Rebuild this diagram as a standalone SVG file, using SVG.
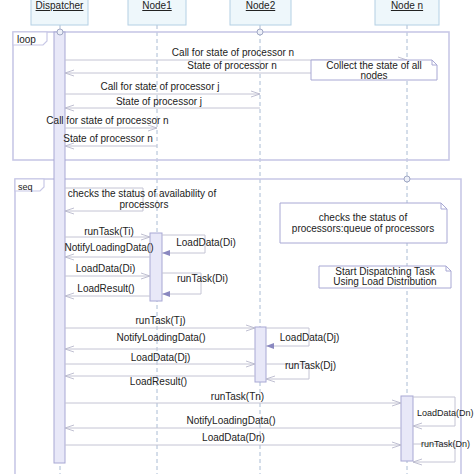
<svg xmlns="http://www.w3.org/2000/svg" width="474" height="474" viewBox="0 0 474 474">
<defs>
<marker id="open" markerWidth="10" markerHeight="8" refX="9" refY="4" orient="auto" markerUnits="userSpaceOnUse">
<path d="M0,1 L9,4 L0,7" fill="none" stroke="#b8b8cc" stroke-width="0.9"/>
</marker>
<marker id="fill" markerWidth="9" markerHeight="8" refX="8" refY="4" orient="auto" markerUnits="userSpaceOnUse">
<path d="M0,1 L8,4 L0,7 Z" fill="#8a88c0" stroke="none"/>
</marker>
<style>
text{font-family:"Liberation Sans",Arial,sans-serif;font-size:10px;fill:#222}
.hdr{fill:#eef7fb;stroke:#b4d0e4;stroke-width:1}
.life{stroke:#aabcd4;stroke-width:1;stroke-dasharray:4,3;fill:none}
.frame{fill:none;stroke:#c8c8e6;stroke-width:1.6}
.tab{fill:#fff;stroke:#c8c8e6;stroke-width:1.2}
.act{fill:#e8e8f8;stroke:#a8a8d4;stroke-width:1}
.msg{stroke:#c4c4d4;stroke-width:1;fill:none;marker-end:url(#open)}
.self{stroke:#c4c4d4;stroke-width:1;fill:none}
.note{fill:#fff;stroke:#a8a8d4;stroke-width:1}
.circ{fill:#eceff8;stroke:#a0a8c4;stroke-width:1}
.m{text-anchor:middle}
</style>
</defs>

<g id="lifelines">
<line class="life" x1="60" y1="25" x2="60" y2="474"/>
<line class="life" x1="157" y1="25" x2="157" y2="474"/>
<line class="life" x1="260" y1="25" x2="260" y2="474"/>
<line class="life" x1="407" y1="25" x2="407" y2="474"/>
</g>

<g id="Dispatcher">
<rect class="hdr" x="31" y="-5" width="57" height="30"/>
<text class="m" x="59.5" y="9" text-decoration="underline">Dispatcher</text>
</g>
<g id="Node1">
<rect class="hdr" x="128" y="-5" width="58" height="30"/>
<text class="m" x="157" y="9" text-decoration="underline">Node1</text>
</g>
<g id="Node2">
<rect class="hdr" x="230" y="-5" width="61" height="30"/>
<text class="m" x="260.5" y="9" text-decoration="underline">Node2</text>
</g>
<g id="NodeN">
<rect class="hdr" x="375" y="-5" width="64" height="30"/>
<text class="m" x="407" y="9" text-decoration="underline">Node n</text>
</g>

<g id="loop-frame">
<rect class="frame" x="13" y="32" width="436" height="128"/>
<path class="tab" d="M13,32 H47 V41 L43,45 H13 Z"/>
<text x="17" y="43">loop</text>
</g>

<g id="seq-frame">
<path class="frame" d="M15,480 V179 H461 V480"/>
<path class="tab" d="M15,179 H44 V187 L40,191 H15 Z"/>
<text x="18" y="190" style="font-size:9px">seq</text>
</g>

<g id="activations">
<rect class="act" x="54" y="32" width="11" height="431"/>
<rect class="act" x="150" y="233" width="12" height="68"/>
<rect class="act" x="255" y="327" width="11" height="55"/>
<rect class="act" x="401" y="396" width="12" height="65"/>
</g>

<g id="circles">
<circle class="circ" cx="60" cy="32" r="3"/>
<circle class="circ" cx="260" cy="32" r="3"/>
<circle class="circ" cx="407" cy="179" r="3"/>
</g>

<g id="connectors">
<line class="msg" x1="65" y1="60" x2="407" y2="60"/>
<line class="msg" x1="407" y1="73" x2="65" y2="73"/>
<line class="msg" x1="65" y1="94" x2="260" y2="94"/>
<line class="msg" x1="260" y1="108" x2="65" y2="108"/>
<line class="msg" x1="65" y1="128" x2="157" y2="128"/>
<line class="msg" x1="157" y1="146" x2="65" y2="146"/>

<path class="msg" d="M65,188 H143 V211 H65"/>

<line class="msg" x1="65" y1="237" x2="150" y2="237"/>
<line class="msg" x1="150" y1="257" x2="65" y2="257"/>
<line class="msg" x1="65" y1="276" x2="150" y2="276"/>
<line class="msg" x1="150" y1="296" x2="65" y2="296"/>
<path class="self" d="M162,235 H205 V253 H162" marker-end="url(#fill)"/>
<path class="self" d="M162,273 H201 V294 H162" marker-end="url(#fill)"/>

<line class="msg" x1="65" y1="328" x2="255" y2="328"/>
<line class="msg" x1="255" y1="349" x2="65" y2="349"/>
<line class="msg" x1="65" y1="364" x2="255" y2="364"/>
<line class="msg" x1="255" y1="376" x2="65" y2="376"/>
<path class="self" d="M266,328 H309 V346 H266" marker-end="url(#fill)"/>
<path class="msg" d="M266,364 H309 V379 H266"/>

<line class="msg" x1="65" y1="403" x2="401" y2="403"/>
<line class="msg" x1="401" y1="428" x2="65" y2="428"/>
<line class="msg" x1="65" y1="445" x2="401" y2="445"/>
<path class="msg" d="M413,397 H455 V426 H413"/>
<path class="msg" d="M413,444 H455 V462 H413"/>
</g>

<g id="labels">
<text class="m" x="233" y="55.5">Call for state of processor n</text>
<text class="m" x="232" y="68.5">State of processor n</text>
<text class="m" x="160" y="89.5">Call for state of processor j</text>
<text class="m" x="159" y="104.5">State of processor j</text>
<text class="m" x="107.5" y="123.5">Call for state of processor n</text>
<text class="m" x="108" y="141.5">State of processor n</text>

<text class="m" x="142" y="196.5">checks the status of availability of</text>
<text class="m" x="144" y="207.5">processors</text>

<text class="m" x="109" y="234.5">runTask(Ti)</text>
<text class="m" x="109" y="251">NotifyLoadingData()</text>
<text class="m" x="105.5" y="271.5">LoadData(Di)</text>
<text class="m" x="106" y="291.5">LoadResult()</text>
<text class="m" x="206" y="245.5">LoadData(Di)</text>
<text class="m" x="202.5" y="281.5">runTask(Di)</text>

<text class="m" x="160.5" y="323.5">runTask(Tj)</text>
<text class="m" x="161" y="340.5">NotifyLoadingData()</text>
<text class="m" x="160.5" y="360.5">LoadData(Dj)</text>
<text class="m" x="158.5" y="384.5">LoadResult()</text>
<text class="m" x="309.5" y="340.5">LoadData(Dj)</text>
<text class="m" x="310.5" y="368.5">runTask(Dj)</text>

<text class="m" x="237.5" y="399.5">runTask(Tn)</text>
<text class="m" x="231" y="423.5">NotifyLoadingData()</text>
<text class="m" x="233.5" y="440.5">LoadData(Dn)</text>
<text x="417" y="415.5" style="font-size:9px">LoadData(Dn)</text>
<text x="421" y="447" style="font-size:9px">runTask(Dn)</text>
</g>

<g id="note-collect">
<path class="note" d="M311,60 H432 L437,65 V80 H311 Z"/>
<path d="M432,60 V65 H437" fill="none" stroke="#a8a8d4"/>
<text class="m" x="374" y="68.5">Collect  the state of all</text>
<text class="m" x="374" y="78.5">nodes</text>
</g>

<g id="note-queue">
<path class="note" d="M280,203 H441 L447,209 V243 H280 Z"/>
<path d="M441,203 V209 H447" fill="none" stroke="#a8a8d4"/>
<text class="m" x="363" y="220.5">checks the status of</text>
<text class="m" x="363" y="231.5">processors:queue of processors</text>
</g>

<g id="note-dispatch">
<path class="note" d="M319,266 H446 L451,271 V288 H319 Z"/>
<path d="M446,266 V271 H451" fill="none" stroke="#a8a8d4"/>
<text class="m" x="385" y="274.5">Start Dispatching Task</text>
<text class="m" x="385" y="284.5">Using Load Distribution</text>
</g>
</svg>
